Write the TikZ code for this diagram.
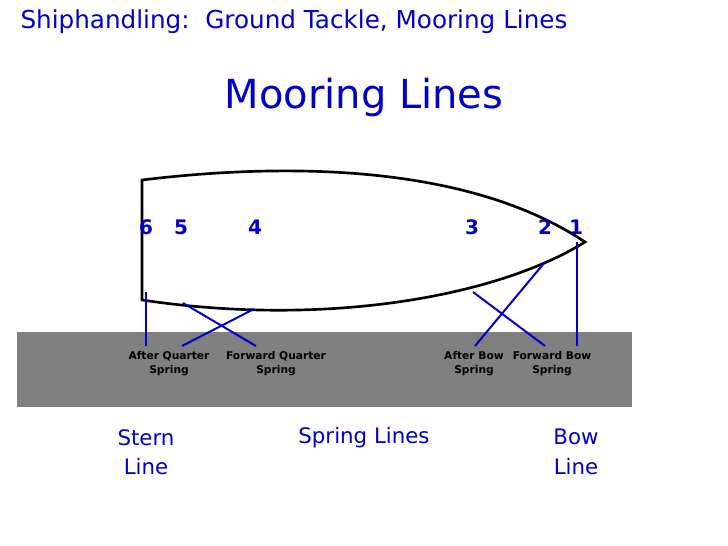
\documentclass[tikz,border=0pt]{standalone}
\usepackage{fontspec}
\setmainfont{DejaVu Sans}
\definecolor{titleblue}{RGB}{0,0,204}
\definecolor{piergray}{RGB}{128,128,128}
\tikzset{every picture/.style={line width=0.75pt},
  num/.style={text=titleblue,font=\fontsize{15}{15}\selectfont\bfseries,inner sep=0pt},
  pierlbl/.style={font=\fontsize{8}{10.5}\selectfont\bfseries,align=center,inner sep=0pt},
  bluelbl/.style={text=titleblue,font=\fontsize{16}{22}\selectfont,align=center,inner sep=0pt},
  mline/.style={draw=titleblue,line width=1.5}}
\begin{document}
\begin{tikzpicture}[x=0.75pt,y=0.75pt,yscale=-1,xscale=1]
\useasboundingbox (0,0) rectangle (728,546);

%Shape: Pier
\fill [piergray] (17,332) rectangle (632,407);

%Shape: Hull
\draw [line width=2] (142,180) .. controls (290,162) and (470,165) .. (585,242)
  .. controls (500,295) and (330,328) .. (142,300) -- cycle;

% Text Nodes
\node [anchor=west,text=titleblue,font=\fontsize{18.5}{18.5}\selectfont,inner sep=0pt] (title) at (20,22) {Shiphandling:\ \ Ground Tackle, Mooring Lines};
\node [text=titleblue,font=\fontsize{30}{30}\selectfont,inner sep=0pt] (head) at (364,97) {Mooring Lines};

\node [num] (n6) at (146,227) {6};
\node [num] (n5) at (181,227) {5};
\node [num] (n4) at (255,227) {4};
\node [num] (n3) at (472,227) {3};
\node [num] (n2) at (545,227) {2};
\node [num] (n1) at (576,227) {1};

\node [pierlbl] (aqs) at (169,364) {After Quarter\\Spring};
\node [pierlbl] (fqs) at (276,364) {Forward Quarter\\Spring};
\node [pierlbl] (abs) at (474,364) {After Bow\\Spring};
\node [pierlbl] (fbs) at (552,364) {Forward Bow\\Spring};

\node [bluelbl] (stern) at (146,452) {Stern\\Line};
\node [bluelbl] (spring) at (364,438) {Spring Lines};
\node [bluelbl] (bow) at (576,452) {Bow\\Line};

%Mooring lines
\coordinate (s1) at (146,292); \coordinate (s2) at (146,346);
\coordinate (q1) at (183,303); \coordinate (q2) at (256,346);
\coordinate (q3) at (254,309); \coordinate (q4) at (182,346);
\coordinate (b1) at (473,292); \coordinate (b2) at (545,346);
\coordinate (b3) at (545,262); \coordinate (b4) at (475,346);
\coordinate (l1) at (577,242); \coordinate (l2) at (577,346);
\foreach \a/\b in {s1/s2,q1/q2,q3/q4,b1/b2,b3/b4,l1/l2}
  \draw [mline] (\a) -- (\b);

\end{tikzpicture}
\end{document}
